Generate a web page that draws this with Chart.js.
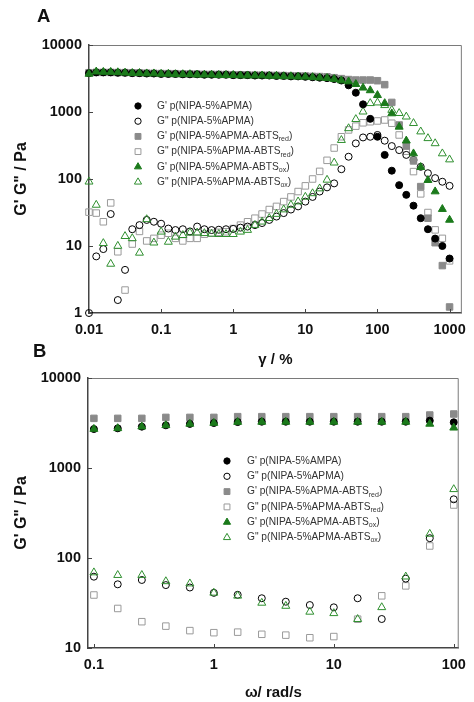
<!DOCTYPE html>
<html lang="en">
<head>
<meta charset="UTF-8" />
<title>G' and G'' sweeps</title>
<script src="https://cdn.jsdelivr.net/npm/chart.js"></script>
<style>
  body { margin: 0; background: #fff; }
  canvas { position: absolute; left: 0; }
  #chartA { top: 0; }
  #chartB { top: 340px; }
</style>
</head>
<body>
<canvas id="chartA" width="474" height="370"></canvas>
<canvas id="chartB" width="474" height="362"></canvas>
<script>
// panel A: strain sweep
const strainA = [0.01, 0.0126, 0.0158, 0.02, 0.0251, 0.0316, 0.0398, 0.0501, 0.0631, 0.0794,
  0.1, 0.126, 0.158, 0.2, 0.251, 0.316, 0.398, 0.501, 0.631, 0.794,
  1, 1.26, 1.58, 2, 2.51, 3.16, 3.98, 5.01, 6.31, 7.94,
  10, 12.6, 15.8, 20, 25.1, 31.6, 39.8, 50.1, 63.1, 79.4,
  100, 126, 158, 200, 251, 316, 398, 501, 631, 794, 1000];

const gpA_apma = [3800, 3900, 3900, 3900, 3850, 3850, 3800, 3800, 3750, 3750,
  3700, 3700, 3700, 3650, 3650, 3650, 3600, 3600, 3600, 3600,
  3550, 3550, 3550, 3500, 3500, 3500, 3450, 3450, 3400, 3400,
  3350, 3300, 3250, 3200, 3100, 2950, 2500, 1940, 1300, 790,
  427, 229, 133, 81, 58, 40, 26, 17.8, 12.9, 10, 6.5];
const gppA_apma = [1.0, 7.0, 9.0, 30, 1.56, 4.4, 17.8, 20.5, 24.5, 23,
  21.5, 18.2, 17.3, 17.8, 16.5, 19.5, 17.8, 17.3, 17.5, 17.8,
  18, 18.8, 19.5, 20.5, 22, 24.5, 27.5, 31, 35, 39,
  46, 54, 65, 75, 86, 140, 215, 340, 417, 427,
  454, 373, 310, 270, 229, 192, 152, 122, 103, 91, 79];
const gpA_red = [3860, 3900, 3900, 3900, 3880, 3870, 3850, 3830, 3800, 3780,
  3750, 3740, 3730, 3700, 3700, 3680, 3650, 3650, 3640, 3630,
  3600, 3600, 3580, 3560, 3550, 3540, 3520, 3500, 3480, 3460,
  3450, 3400, 3380, 3350, 3250, 3150, 3050, 3000, 3000, 3000,
  2930, 2560, 1390, 640, 310, 186, 77, 26, 11.2, 5.1, 1.23];
const gppA_red = [32, 31, 23, 44, 8.2, 2.2, 10.7, 16.5, 11.9, 13,
  14.5, 15.5, 13, 11.9, 13, 13, 15, 15.5, 16, 16.3,
  18.2, 20.5, 23, 26, 30, 35, 39, 46, 54, 65,
  79, 100, 130, 190, 290, 427, 540, 615, 690, 716,
  735, 760, 680, 454, 260, 129, 60, 31.6, 17.4, 13, 6];
const gpA_ox = [3700, 4000, 3950, 3950, 3900, 3850, 3800, 3800, 3750, 3750,
  3700, 3700, 3650, 3650, 3650, 3600, 3600, 3600, 3550, 3550,
  3550, 3500, 3500, 3500, 3500, 3450, 3450, 3400, 3400, 3350,
  3350, 3300, 3250, 3200, 3100, 2950, 2850, 2600, 2300, 2100,
  1780, 1350, 950, 600, 373, 240, 150, 96, 65, 35.5, 24.5];
const gppA_ox = [91, 41, 11, 5.4, 10, 14, 13, 7.9, 25, 11.2,
  16.3, 11.5, 13.7, 14.5, 15.8, 15.8, 15.5, 15.2, 15, 15,
  15, 16.3, 17.3, 20.5, 23, 26, 30, 35, 41, 46,
  54, 61, 72, 97, 175, 380, 570, 780, 1010, 1350,
  1380, 1260, 1070, 960, 850, 680, 510, 405, 340, 240, 195];

// panel B: frequency sweep
const freqB = [0.1, 0.158, 0.251, 0.398, 0.631, 1, 1.58, 2.51, 3.98, 6.31, 10, 15.8, 25.1, 39.8, 63.1, 100];
const gpB_apma = [2710, 2760, 2880, 2980, 3090, 3160, 3240, 3270, 3270, 3270, 3270, 3270, 3270, 3270, 3360, 3220];
const gppB_apma = [62, 51, 57, 50, 47, 41, 39, 35.7, 32.7, 30, 28.3, 35.7, 21, 59, 166, 449];
const gpB_red = [3560, 3560, 3560, 3650, 3650, 3650, 3720, 3720, 3720, 3720, 3720, 3720, 3720, 3720, 3880, 3980];
const gppB_red = [38.8, 27.5, 19.6, 17.5, 15.6, 14.8, 15, 14.2, 13.9, 13, 13.4, 20.9, 38, 49, 136, 388];
const gpB_ox = [2710, 2760, 2880, 2980, 3090, 3160, 3240, 3250, 3250, 3250, 3250, 3250, 3250, 3250, 3090, 2800];
const gppB_ox = [69, 64.5, 64.5, 55, 52, 41, 38, 31.7, 29.3, 25.2, 24.3, 20.9, 28.3, 62, 185, 580];

const xTicksA = [0.01, 0.1, 1, 10, 100, 1000];
const yTicksA = [1, 10, 100, 1000, 10000];
const xTicksB = [0.1, 1, 10, 100];
const yTicksB = [10, 100, 1000, 10000];

// legend text: [before subscript, subscript, after]
const legendA = [["G' p(NIPA-5%APMA)", "", ""], ['G" p(NIPA-5%APMA)', "", ""],
  ["G' p(NIPA-5%APMA-ABTS", "red", ")"], ['G" p(NIPA-5%APMA-ABTS', "red", ")"],
  ["G' p(NIPA-5%APMA-ABTS", "ox", ")"], ['G" p(NIPA-5%APMA-ABTS', "ox", ")"]];
const legendB = [["G' p(NIPA-5%AMPA)", "", ""], ['G" p(NIPA-5%APMA)', "", ""],
  ["G' p(NIPA-5%APMA-ABTS", "red", ")"], ['G" p(NIPA-5%APMA-ABTS', "red", ")"],
  ["G' p(NIPA-5%APMA-ABTS", "ox", ")"], ['G" p(NIPA-5%APMA-ABTS', "ox", ")"]];

const FONT = "'Liberation Sans', Arial, sans-serif";
const black = '#000000', grey = '#8a8a8a', greyLine = '#9a9a9a', green = '#1b7a1b', greenLine = '#2f8f2f';

function series(xs, ys) {
  return xs.map((x, i) => ({ x: x, y: ys[i] }));
}

function dataset(label, data, style, fill, line, order) {
  const r = style === 'circle' ? 3.5 : 4.6;
  return {
    label: label, data: data, showLine: false, clip: false, order: order,
    pointStyle: style, pointRadius: r, pointHoverRadius: r,
    backgroundColor: fill, borderColor: line, borderWidth: 1
  };
}

function buildDatasets(xs, vals, legend) {
  const names = legend.map(l => l.join(''));
  const none = 'rgba(0,0,0,0)';
  return [
    dataset(names[0], series(xs, vals[0]), 'circle', black, black, 1),
    dataset(names[1], series(xs, vals[1]), 'circle', none, black, 4),
    dataset(names[2], series(xs, vals[2]), 'rect', grey, grey, 2),
    dataset(names[3], series(xs, vals[3]), 'rect', none, greyLine, 5),
    dataset(names[4], series(xs, vals[4]), 'triangle', green, green, 0),
    dataset(names[5], series(xs, vals[5]), 'triangle', none, greenLine, 3)
  ];
}

function drawMarker(ctx, style, x, y, r, fill, line) {
  ctx.beginPath();
  if (style === 'circle') {
    ctx.arc(x, y, r, 0, Math.PI * 2);
  } else if (style === 'rect') {
    const s = r / Math.SQRT2;
    ctx.rect(x - s, y - s, 2 * s, 2 * s);
  } else {
    const a = r * Math.sqrt(3) / 2;
    ctx.moveTo(x - a, y + r / 2);
    ctx.lineTo(x + a, y + r / 2);
    ctx.lineTo(x, y - r);
    ctx.closePath();
  }
  ctx.fillStyle = fill;
  ctx.fill();
  ctx.lineWidth = 1;
  ctx.strokeStyle = line;
  ctx.stroke();
}

// box, inward ticks, panel letter and legend
const decor = {
  id: 'decor',
  afterDraw(chart, args, opts) {
    const ctx = chart.ctx, a = chart.chartArea, x = chart.scales.x, y = chart.scales.y;
    ctx.save();
    ctx.strokeStyle = '#7a7a7a';
    ctx.lineWidth = 1;
    ctx.beginPath();
    ctx.moveTo(a.left, a.top + 0.5);
    ctx.lineTo(a.right - 0.5, a.top + 0.5);
    ctx.lineTo(a.right - 0.5, a.bottom);
    ctx.stroke();
    ctx.strokeStyle = '#444';
    ctx.beginPath();
    x.ticks.forEach(t => {
      const px = Math.round(x.getPixelForValue(t.value)) + 0.5;
      ctx.moveTo(px, a.bottom);
      ctx.lineTo(px, a.bottom - 4);
    });
    y.ticks.forEach(t => {
      const py = Math.round(y.getPixelForValue(t.value)) + 0.5;
      ctx.moveTo(a.left, py);
      ctx.lineTo(a.left + 4, py);
    });
    ctx.stroke();

    ctx.fillStyle = '#111';
    ctx.font = 'bold 18.5px ' + FONT;
    ctx.textBaseline = 'alphabetic';
    ctx.fillText(opts.letter, opts.letterX, opts.letterY);

    ctx.textBaseline = 'middle';
    chart.data.datasets.forEach((ds, i) => {
      const ly = opts.legendY + i * opts.legendStep;
      drawMarker(ctx, ds.pointStyle, opts.markerX, ly, ds.pointRadius * 0.9, ds.backgroundColor, ds.borderColor);
      const parts = opts.legend[i];
      ctx.fillStyle = '#333';
      ctx.font = '10.2px ' + FONT;
      let tx = opts.textX;
      ctx.fillText(parts[0], tx, ly);
      tx += ctx.measureText(parts[0]).width;
      if (parts[1]) {
        ctx.font = '7px ' + FONT;
        ctx.fillText(parts[1], tx, ly + 3);
        tx += ctx.measureText(parts[1]).width;
        ctx.font = '10.2px ' + FONT;
        ctx.fillText(parts[2], tx, ly);
      }
    });
    ctx.restore();
  }
};

function makeChart(id, o) {
  return new Chart(document.getElementById(id), {
    type: 'scatter',
    data: { datasets: o.datasets },
    plugins: [decor],
    options: {
      responsive: false,
      animation: false,
      events: [],
      layout: { padding: o.padding },
      plugins: {
        legend: { display: false },
        tooltip: { enabled: false },
        decor: o.decor
      },
      scales: {
        x: {
          type: 'logarithmic', min: o.xMin, max: o.xMax,
          afterBuildTicks: axis => { axis.ticks = o.xTicks.map(v => ({ value: v })); },
          afterFit: axis => { axis.height = o.xHeight; },
          grid: { display: false, drawTicks: false },
          border: { display: true, color: '#444', width: 1.5 },
          ticks: {
            autoSkip: false, maxRotation: 0, padding: 8, color: '#111',
            font: { family: FONT, size: 14.5, weight: 'bold' },
            callback: v => String(v)
          },
          title: {
            display: true, text: o.xTitle, color: '#111',
            font: { family: FONT, size: 15, weight: 'bold' },
            padding: { top: 0, bottom: o.xTitlePad }
          }
        },
        y: {
          type: 'logarithmic', min: o.yMin, max: o.yMax,
          afterBuildTicks: axis => { axis.ticks = o.yTicks.map(v => ({ value: v })); },
          afterFit: axis => { axis.width = o.yWidth; },
          grid: { display: false, drawTicks: false },
          border: { display: true, color: '#444', width: 1.5 },
          ticks: {
            autoSkip: false, padding: 7, color: '#111',
            font: { family: FONT, size: 14.5, weight: 'bold' },
            callback: v => String(v)
          },
          title: {
            display: true, text: 'G\' G" / Pa', color: '#111',
            font: { family: FONT, size: 16, weight: 'bold' },
            padding: { top: 12.4, bottom: 0 }
          }
        }
      }
    }
  });
}

makeChart('chartA', {
  datasets: buildDatasets(strainA, [gpA_apma, gppA_apma, gpA_red, gppA_red, gpA_ox, gppA_ox], legendA),
  padding: { top: 45, right: 9, bottom: 0, left: 0 },
  xMin: 0.01, xMax: 1480, yMin: 1, yMax: 10000,
  xTicks: xTicksA, yTicks: yTicksA,
  xHeight: 57, yWidth: 89, xTitle: 'γ / %', xTitlePad: 1,
  decor: { letter: 'A', letterX: 37, letterY: 22, legend: legendA, markerX: 138, textX: 157, legendY: 106, legendStep: 15.2 }
});

makeChart('chartB', {
  datasets: buildDatasets(freqB, [gpB_apma, gppB_apma, gpB_red, gppB_red, gpB_ox, gppB_ox], legendB),
  padding: { top: 38, right: 11, bottom: 0, left: 0 },
  xMin: 0.0893, xMax: 110, yMin: 10, yMax: 10000,
  xTicks: xTicksB, yTicks: yTicksB,
  xHeight: 54, yWidth: 88, xTitle: 'ω/ rad/s', xTitlePad: 0,
  decor: { letter: 'B', letterX: 33, letterY: 17, legend: legendB, markerX: 227, textX: 247, legendY: 121, legendStep: 15.3 }
});
</script>
</body>
</html>
